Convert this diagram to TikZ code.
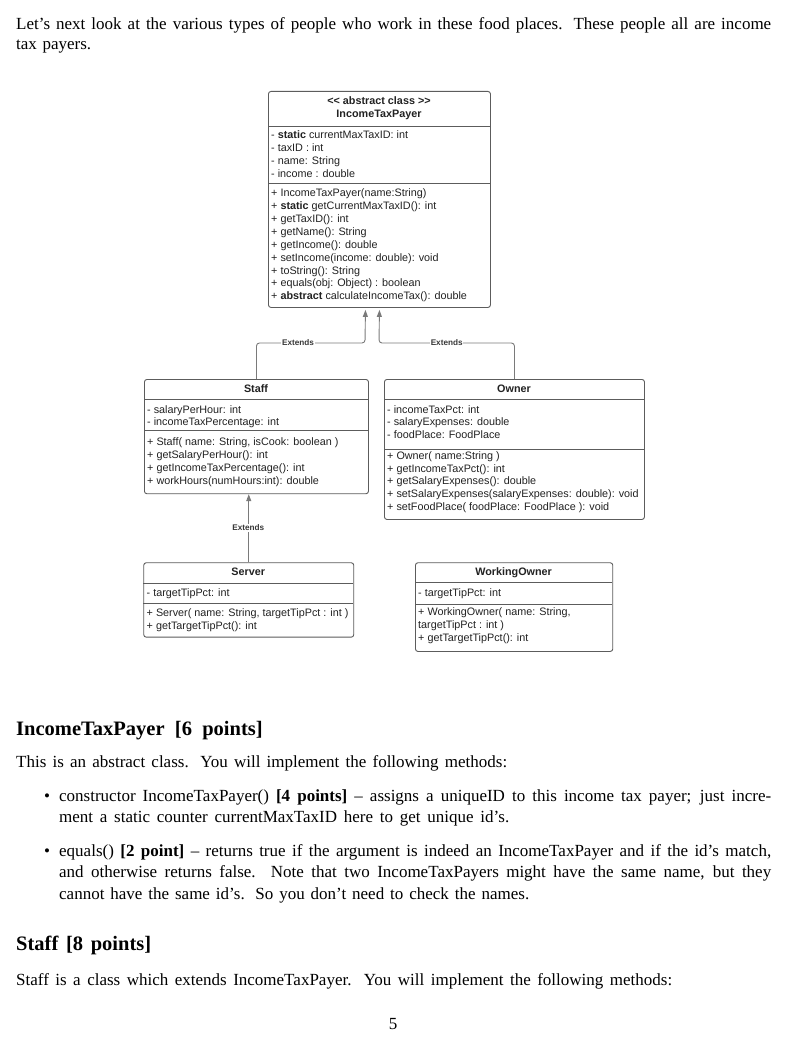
\documentclass[tikz,border=0pt]{standalone}
\usepackage{fontspec}
\setmainfont{Liberation Serif}
\newfontfamily\diag{Liberation Sans}
\usetikzlibrary{arrows.meta}
\definecolor{boxc}{HTML}{5C5C5C}
\definecolor{linec}{HTML}{7A7A7A}
\definecolor{txtc}{HTML}{222222}
\newcommand{\fitln}[2]{\hbox to #1pt{#2}}
\begin{document}
\begin{tikzpicture}[x=1pt,y=-1pt,
  classbox/.style={draw=boxc, line width=0.9pt, rounded corners=2.5pt, anchor=north west, inner sep=0pt},
  lbl/.style={anchor=base west, inner sep=0pt, font=\diag\fontsize{10.8}{12}\selectfont, text=txtc},
  ttl/.style={anchor=base, inner sep=0pt, font=\diag\bfseries\fontsize{10.8}{12}\selectfont, text=txtc},
  divl/.style={draw=boxc, line width=0.9pt},
  ext/.style={draw=linec, line width=0.9pt, -{Triangle[length=7pt,width=5pt]}, rounded corners=3pt},
  extlbl/.style={fill=white, inner sep=0.8pt, font=\diag\bfseries\fontsize{8.2}{9}\selectfont, text=txtc!90},
  body/.style={anchor=base west, inner sep=0pt, font=\fontsize{17}{20}\selectfont},
  head/.style={anchor=base west, inner sep=0pt, font=\bfseries\fontsize{20.5}{24}\selectfont},
]
\useasboundingbox[fill=white] (0,0) rectangle (794,1040);

% ---------- intro text
\node[body] (p1) at (16,30) {\fitln{755}{Let’s next look at the various types of people who work in these food places. These people all are income}};
\node[body] (p2) at (16,50) {\fitln{75}{tax payers.}};

% ---------- IncomeTaxPayer
\node[classbox, minimum width=222pt, minimum height=216pt] (itp) at (268,91) {};
\draw[divl] (268,126.7) -- (490,126.7);
\draw[divl] (268,183.7) -- (490,183.7);
\node[ttl] (itpst) at (379,104.3) {<{}< abstract class >{}>};
\node[ttl] (itpt) at (379,117.8) {IncomeTaxPayer};
\foreach \t [count=\i] in {{- \textbf{static} currentMaxTaxID: int},{- taxID : int},{- name: String},{- income : double}}
  \node[lbl] (itpa\i) at (271,{138.7+12.85*(\i-1)}) {\t};
\foreach \t [count=\i] in {{+ IncomeTaxPayer(name:String)},{+ \textbf{static} getCurrentMaxTaxID(): int},{+ getTaxID(): int},{+ getName(): String},{+ getIncome(): double},{+ setIncome(income: double): void},{+ toString(): String},{+ equals(obj: Object) : boolean},{+ \textbf{abstract} calculateIncomeTax(): double}}
  \node[lbl] (itpm\i) at (271,{197+12.85*(\i-1)}) {\t};

% ---------- Staff
\node[classbox, minimum width=224pt, minimum height=114.3pt] (staff) at (144,379) {};
\draw[divl] (144,399.3) -- (368,399.3);
\draw[divl] (144,430) -- (368,430);
\node[ttl] (stafft) at (256,392.8) {Staff};
\foreach \t [count=\i] in {{- salaryPerHour: int},{- incomeTaxPercentage: int}}
  \node[lbl] (staffa\i) at (147,{413+12.85*(\i-1)}) {\t};
\foreach \t [count=\i] in {{+ Staff( name: String, isCook: boolean )},{+ getSalaryPerHour(): int},{+ getIncomeTaxPercentage(): int},{+ workHours(numHours:int): double}}
  \node[lbl] (staffm\i) at (147,{445.7+12.85*(\i-1)}) {\t};

% ---------- Owner
\node[classbox, minimum width=260pt, minimum height=140pt] (owner) at (384,379) {};
\draw[divl] (384,399.3) -- (644,399.3);
\draw[divl] (384,449) -- (644,449);
\node[ttl] (ownert) at (514,392.8) {Owner};
\foreach \t [count=\i] in {{- incomeTaxPct: int},{- salaryExpenses: double},{- foodPlace: FoodPlace}}
  \node[lbl] (ownera\i) at (387,{413+12.85*(\i-1)}) {\t};
\foreach \t [count=\i] in {{+ Owner( name:String )},{+ getIncomeTaxPct(): int},{+ getSalaryExpenses(): double},{+ setSalaryExpenses(salaryExpenses: double): void},{+ setFoodPlace( foodPlace: FoodPlace ): void}}
  \node[lbl] (ownerm\i) at (387,{459.2+12.85*(\i-1)}) {\t};

% ---------- Server
\node[classbox, minimum width=210pt, minimum height=74.4pt] (server) at (143.3,562.3) {};
\draw[divl] (143.3,583) -- (353.3,583);
\draw[divl] (143.3,603.3) -- (353.3,603.3);
\node[ttl] (servert) at (248.3,575.5) {Server};
\node[lbl] (servera1) at (146.5,596) {- targetTipPct: int};
\foreach \t [count=\i] in {{+ Server( name: String, targetTipPct : int )},{+ getTargetTipPct(): int}}
  \node[lbl] (serverm\i) at (146.5,{616.2+13*(\i-1)}) {\t};

% ---------- WorkingOwner
\node[classbox, minimum width=197.3pt, minimum height=88.7pt] (wo) at (415,562.3) {};
\draw[divl] (415,582.3) -- (612.3,582.3);
\draw[divl] (415,604.5) -- (612.3,604.5);
\node[ttl] (wot) at (513.6,575.5) {WorkingOwner};
\node[lbl] (woa1) at (418,596) {- targetTipPct: int};
\foreach \t [count=\i] in {{+ WorkingOwner( name: String,},{targetTipPct : int )},{+ getTargetTipPct(): int}}
  \node[lbl] (wom\i) at (418,{615.7+13*(\i-1)}) {\t};

% ---------- connectors
\coordinate (jl) at (365,343);
\coordinate (jr) at (379,343);
\draw[ext] (staff.north) |- (jl) -- ([xshift=-14pt,yshift=-2pt]itp.south);
\draw[ext] (owner.north) |- (jr) -- ([yshift=-2pt]itp.south);
\draw[ext] (server.north) -- (server.north |- staff.south);
\node[extlbl] (e1) at (298,343) {Extends};
\node[extlbl] (e2) at (446.7,343) {Extends};
\node[extlbl] (e3) at (248.3,527.7) {Extends};

% ---------- body text
\node[head] (h1) at (16,735) {\fitln{246.5}{IncomeTaxPayer [6 points]}};
\node[body] (t1) at (16,767) {\fitln{491}{This is an abstract class. You will implement the following methods:}};
\node[body, anchor=base] (bu1) at (47,801.5) {\textbullet};
\node[body] (b1l1) at (59,801.5) {\fitln{712}{constructor IncomeTaxPayer() \textbf{[4 points]} – assigns a uniqueID to this income tax payer; just incre-}};
\node[body] (b1l2) at (59,822) {\fitln{450}{ment a static counter currentMaxTaxID here to get unique id’s.}};
\node[body, anchor=base] (bu2) at (47,856.5) {\textbullet};
\node[body] (b2l1) at (59,856.5) {\fitln{712}{equals() \textbf{[2 point]} – returns true if the argument is indeed an IncomeTaxPayer and if the id’s match,}};
\node[body] (b2l2) at (59,877.5) {\fitln{712}{and otherwise returns false. Note that two IncomeTaxPayers might have the same name, but they}};
\node[body] (b2l3) at (59,899) {\fitln{470}{cannot have the same id’s. So you don’t need to check the names.}};
\node[head] (h2) at (16,950) {\fitln{135}{Staff [8 points]}};
\node[body] (t2) at (16,985) {\fitln{656}{Staff is a class which extends IncomeTaxPayer. You will implement the following methods:}};
\node[body, anchor=base] (pg) at (393,1029) {5};
\end{tikzpicture}
\end{document}
